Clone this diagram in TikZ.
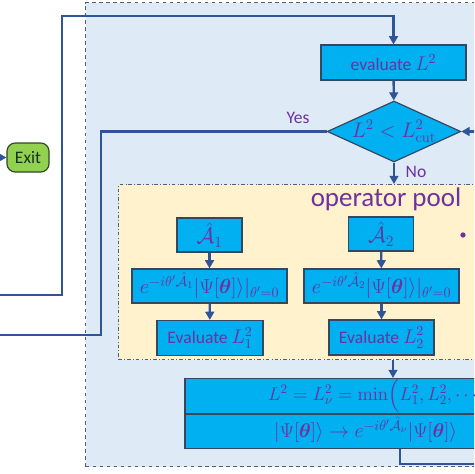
\documentclass[tikz,border=0pt]{standalone}
\usepackage{fix-cm}
\usepackage{amsmath,amssymb}
\usepackage[no-math]{fontspec}
\newfontfamily\carlito{Carlito}
\usetikzlibrary{shapes.geometric,arrows.meta,positioning}
\definecolor{flowblue}{RGB}{47,85,151}
\definecolor{boxcyan}{RGB}{0,176,240}
\definecolor{boxedge}{RGB}{55,70,95}
\definecolor{txtpurple}{RGB}{112,48,160}
\definecolor{outerfill}{RGB}{222,235,247}
\definecolor{poolfill}{RGB}{255,242,204}
\definecolor{exitgreen}{RGB}{146,208,80}
\definecolor{exitedge}{RGB}{50,70,40}
\definecolor{exittext}{RGB}{25,50,30}
\definecolor{framegray}{RGB}{85,95,110}

\begin{document}
\begin{tikzpicture}[x=0.03cm, y=-0.03cm,
  opbox/.style={draw=boxedge, line width=1pt, fill=boxcyan, inner sep=0pt, text=txtpurple, font=\carlito\fontsize{15}{18}\selectfont},
  mathbox/.style={opbox, font=\fontsize{19}{22}\selectfont},
  expbox/.style={opbox, font=\fontsize{17.5}{20}\selectfont},
  decision/.style={diamond, aspect=2.2, draw=boxedge, line width=1pt, fill=boxcyan, inner sep=0pt, text=txtpurple, font=\fontsize{18}{21}\selectfont, minimum width=3.99cm, minimum height=1.83cm},
  exitbox/.style={draw=exitedge, line width=1pt, fill=exitgreen, rounded corners=7pt, text=exittext, font=\carlito\fontsize{15}{18}\selectfont, minimum width=1.26cm, minimum height=0.87cm, inner sep=0pt},
  stagebox/.style={draw=framegray, dashed, line width=0.9pt, fill=outerfill, anchor=north west, inner sep=0pt},
  poolbox/.style={draw=framegray, dash dot, line width=0.9pt, fill=poolfill, anchor=north west, inner sep=0pt},
  flow/.style={draw=flowblue, line width=2pt},
  arr/.style={flow, -{Triangle[length=7pt,width=7.5pt]}},
  lbl/.style={text=txtpurple, font=\carlito\fontsize{15}{18}\selectfont, inner sep=0pt}
]
\useasboundingbox (0,0) rectangle (474,474);
\clip (0,0) rectangle (474,474);

% Frames
\node[stagebox, minimum width=13.65cm, minimum height=13.92cm] (stage) at (85,2) {};
\node[poolbox, minimum width=12.66cm, minimum height=5.25cm] (pool) at (118,184) {};
\node[lbl, font=\carlito\fontsize{23}{27}\selectfont] (pooltitle) at (386,199) {operator pool};
\node[circle, fill=txtpurple, inner sep=1.6pt] (more) at (463,235) {};

% Main loop
\node[opbox, minimum width=4.35cm, minimum height=1.05cm] (eval) at (393.5,62.5) {evaluate {\fontsize{17}{20}\selectfont$L^2$}};
\node[decision] (check) at (394,131.5) {$L^2 < L^2_{\mathrm{cut}}$};
\node[exitbox] (exit) at (28,157.5) {Exit};
\node[lbl] (yes) at (298,118) {Yes};
\node[lbl] (no) at (416,172) {No};

% Operator pool
\node[mathbox, minimum width=1.95cm, minimum height=1.02cm] (opA) at (209.5,235) {$\hat{\mathcal{A}}_1$};
\node[mathbox, minimum width=1.95cm, minimum height=1.02cm] (opB) at (381,234) {$\hat{\mathcal{A}}_2$};
\node[expbox, minimum width=4.65cm, minimum height=1.02cm] (expA) at (209.5,286) {$e^{-i\theta'\hat{\mathcal{A}}_1}|\Psi[\boldsymbol{\theta}]\rangle|_{\theta'=0}$};
\node[expbox, minimum width=4.65cm, minimum height=1.02cm] (expB) at (381.5,286) {$e^{-i\theta'\hat{\mathcal{A}}_2}|\Psi[\boldsymbol{\theta}]\rangle|_{\theta'=0}$};
\node[opbox, minimum width=3.18cm, minimum height=1.05cm] (evA) at (210,338) {Evaluate {\fontsize{17}{20}\selectfont$L_1^2$}};
\node[opbox, minimum width=3.15cm, minimum height=1.05cm] (evB) at (381.5,337.5) {Evaluate {\fontsize{17}{20}\selectfont$L_2^2$}};

% Selection
\node[opbox, anchor=north, minimum width=12.48cm, minimum height=1.05cm] (minA) at (393,378) {};
\node[opbox, anchor=north, minimum width=12.48cm, minimum height=1.02cm] (minB) at (minA.south) {};
\node[lbl, font=\fontsize{16}{19}\selectfont, anchor=west] (mineq) at (268,395.5) {$L^2 = L^2_\nu = \min\Bigl(L^2_1, L^2_2, \cdots, L^2_N\Bigr)$};
\node[lbl, font=\fontsize{17}{20}\selectfont, anchor=west] (update) at (274,430) {$|\Psi[\boldsymbol{\theta}]\rangle \to e^{-i\theta'\hat{\mathcal{A}}_\nu}|\Psi[\boldsymbol{\theta}]\rangle$};

% Loose ends
\coordinate (inTop) at (-5,295);
\coordinate (loopTop) at (62,16);
\coordinate (outYes) at (-5,335);
\coordinate (yesCorner) at (101,335);
\coordinate (exitIn) at (-5,157.5);
\coordinate (backIn) at (490,131.5);
\coordinate (backOut) at (490,464);
\coordinate (backCorner) at (400,464);

% Connectors
\draw[arr] (inTop) -| (loopTop) -| (eval.north);
\draw[arr] (eval) -- (check);
\draw[flow] (check.west) -| (yesCorner) -- (outYes);
\draw[arr] (exitIn) -- (exit.west);
\draw[arr] (backIn) -- (check.east);
\draw[arr] (check.south) -- (check.south |- pool.north);
\draw[arr] (opA) -- (expA);
\draw[arr] (expA) -- (evA);
\draw[arr] (opB) -- (expB);
\draw[arr] (expB) -- (evB);
\draw[arr] (minA.north |- pool.south) -- (minA.north);
\draw[flow] (minB.south -| backCorner) -- (backCorner) -- (backOut);
\end{tikzpicture}
\end{document}
